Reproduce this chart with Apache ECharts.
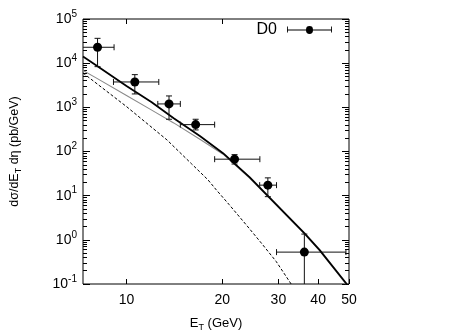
<!DOCTYPE html>
<html><head><meta charset="utf-8">
<script src="https://cdn.jsdelivr.net/npm/echarts@6/dist/echarts.min.js"></script>
<style>html,body{margin:0;padding:0;background:#fff}#c{width:474px;height:331px}</style>
</head><body><div id="c"></div>
<script>
// ---- data ----
const xTicks = [10, 20, 30, 40, 50];
const xTicksTop = [10, 20];          // the key box hides the upper ticks at 30 and 40
const yMajor = [0.1, 1, 10, 100, 1000, 10000, 100000];
const yMinorMult = [2, 3, 4, 5, 6, 7, 8, 9];

// D0 data points with error bars
const d0X  = [8.11, 10.62, 13.6, 16.49, 21.85, 27.8, 36.2];
const d0Y  = [22900, 3755, 1194, 406, 67, 17.3, 0.527];
const d0XLo = [7.08, 9.10, 12.54, 14.76, 18.92, 26.2, 29.6];
const d0XHi = [9.14, 12.63, 14.76, 18.92, 26.24, 29.6, 48.9];
const d0YLo = [8340, 2010, 537, 308, 52, 9.5, 0.05];
const d0YHi = [36500, 5500, 1811, 537, 85, 25.3, 1.35];

// theory curves
const blackX = [7.3, 8, 10, 12, 14.07, 17, 20.1, 24.35, 30, 36.2, 40.4, 48.9, 50];
const blackY = [14100, 9100, 3050, 1300, 566, 224, 91.6, 26.2, 5.66, 1.42, 0.594, 0.105, 0.082];
const grayX  = [7.3, 8, 10, 12, 14.07, 17, 20.1, 24.35, 30, 36.2, 40.4, 48.9, 50];
const grayY  = [6800, 4710, 1855, 865, 444, 190, 87, 25.1, 5.43, 1.36, 0.569, 0.1, 0.079];
const dashX  = [7.3, 10, 13.4, 16, 18.03, 19.15, 21, 23.78, 26.5, 29.53, 32.9, 34];
const dashY  = [6000, 1040, 183, 52.8, 22.8, 13.5, 6.3, 2.18, 0.851, 0.323, 0.1, 0.07];

// ---- build ----
const yMinor = [];
for (let i = 0; i < yMajor.length - 1; i++) for (const m of yMinorMult) yMinor.push(+(yMajor[i] * m).toPrecision(3));

const zip = (a, b) => a.map((v, i) => [v, b[i]]);
const d0Data = d0X.map((x, i) => [x, d0Y[i], d0XLo[i], d0XHi[i], d0YLo[i], d0YHi[i]]);

const FONT = '"Liberation Sans", Arial, Helvetica, sans-serif';
const XMIN = 7.3, XMAX = 50, YMIN = 0.1, YMAX = 1e5;

const supLabel = v => {
  const e = Math.round(Math.log10(v));
  return '{b|10}{s|' + e + '}';
};

const chart = echarts.init(document.getElementById('c'), null, {renderer: 'canvas'});
chart.setOption({
  animation: false,
  backgroundColor: '#fff',
  textStyle: {fontFamily: FONT, color: '#000'},
  grid: {left: 83, top: 19, width: 266, height: 265, outerBoundsMode: 'none', containLabel: false,
         show: true, borderColor: '#000', borderWidth: 1, backgroundColor: 'transparent'},
  legend: {
    data: [{name: 'D0', icon: 'path://M0,2L1,2L1,5.5L22,5.5A4,4 0 1 1 30,5.5L51,5.5L51,2L52,2L52,9L51,9L51,6.5L30,6.5A4,4 0 1 1 22,6.5L1,6.5L1,9L0,9Z'}],
    right: 474 - 332, top: 22, padding: 0, align: 'right',
    itemWidth: 45, itemHeight: 9,
    textStyle: {fontFamily: FONT, fontSize: 16, color: '#000', padding: [0, 5, 0, 0]},
    selectedMode: false
  },
  xAxis: [
    {type: 'log', min: XMIN, max: XMAX, position: 'bottom',
     name: '{n|E}{sub|T}{n| (GeV)}', nameLocation: 'middle', nameGap: 31,
     nameTextStyle: {rich: {n: {fontSize: 13, fontFamily: FONT, color: '#000'}, sub: {fontSize: 9, fontFamily: FONT, color: '#000', padding: [8, 0, 0, 0]}}},
     axisLine: {show: false}, splitLine: {show: false}, minorTick: {show: false},
     axisTick: {show: true, inside: true, length: 5, customValues: xTicks, lineStyle: {color: '#000'}},
     axisLabel: {show: true, customValues: xTicks, margin: 9, fontSize: 14, fontFamily: FONT, color: '#000', formatter: v => String(Math.round(v))}},
    {type: 'log', min: XMIN, max: XMAX, position: 'top',
     axisLine: {show: false}, splitLine: {show: false},
     axisTick: {show: true, inside: true, length: 5, customValues: xTicksTop, lineStyle: {color: '#000'}},
     axisLabel: {show: false}}
  ],
  yAxis: [
    {type: 'log', min: YMIN, max: YMAX, position: 'left',
     name: '{n|dσ/dE}{sub|T}{n| dη (pb/GeV)}', nameLocation: 'middle', nameGap: 60, nameRotate: 90,
     nameTextStyle: {rich: {n: {fontSize: 12.5, fontFamily: FONT, color: '#000'}, sub: {fontSize: 9, fontFamily: FONT, color: '#000', padding: [8, 0, 0, 0]}}},
     axisLine: {show: false}, splitLine: {show: false},
     axisTick: {show: true, inside: true, length: 7, customValues: yMajor, lineStyle: {color: '#000'}},
     axisLabel: {show: true, customValues: yMajor, margin: 6, formatter: supLabel,
       rich: {b: {fontSize: 14, fontFamily: FONT, color: '#000', lineHeight: 16},
              s: {fontSize: 10, fontFamily: FONT, color: '#000', lineHeight: 12, padding: [0, 0, 10, 0]}}}},
    {type: 'log', min: YMIN, max: YMAX, position: 'left',
     axisLine: {show: false}, splitLine: {show: false}, axisLabel: {show: false},
     axisTick: {show: true, inside: true, length: 4, customValues: yMinor, lineStyle: {color: '#000'}}},
    {type: 'log', min: YMIN, max: YMAX, position: 'right',
     axisLine: {show: false}, splitLine: {show: false}, axisLabel: {show: false},
     axisTick: {show: true, inside: true, length: 7, customValues: yMajor, lineStyle: {color: '#000'}}},
    {type: 'log', min: YMIN, max: YMAX, position: 'right',
     axisLine: {show: false}, splitLine: {show: false}, axisLabel: {show: false},
     axisTick: {show: true, inside: true, length: 4, customValues: yMinor, lineStyle: {color: '#000'}}}
  ],
  series: [
    {type: 'line', name: 'gray', data: zip(grayX, grayY), showSymbol: false, smooth: false, clip: true,
     lineStyle: {color: '#8a8a8a', width: 1.1}, z: 2},
    {type: 'line', name: 'dash', data: zip(dashX, dashY), showSymbol: false, smooth: false, clip: true,
     lineStyle: {color: '#000', width: 1, type: [3, 2]}, z: 2},
    {type: 'line', name: 'black', data: zip(blackX, blackY), showSymbol: false, smooth: false, clip: true,
     lineStyle: {color: '#000', width: 1.8}, z: 3},
    {type: 'custom', name: 'D0', data: d0Data, clip: true, z: 5,
     itemStyle: {color: '#000'},
     encode: {x: [0, 2, 3], y: [1, 4, 5]},
     renderItem: function (params, api) {
       const x = api.value(0), y = api.value(1);
       const c = api.coord([x, y]);
       const l = api.coord([api.value(2), y]), r = api.coord([api.value(3), y]);
       const t = api.coord([x, api.value(5)]), b = api.coord([x, api.value(4)]);
       const cap = 3;
       const st = {stroke: '#111', lineWidth: 1, fill: null};
       const ln = (x1, y1, x2, y2) => ({type: 'line', shape: {x1, y1, x2, y2}, style: st});
       return {type: 'group', children: [
         ln(l[0], c[1], r[0], c[1]),
         ln(l[0], c[1] - cap, l[0], c[1] + cap),
         ln(r[0], c[1] - cap, r[0], c[1] + cap),
         ln(c[0], t[1], c[0], b[1]),
         ln(c[0] - cap, t[1], c[0] + cap, t[1]),
         ln(c[0] - cap, b[1], c[0] + cap, b[1]),
         {type: 'circle', shape: {cx: c[0], cy: c[1], r: 4.5}, style: {fill: '#000'}}
       ]};
     }}
  ]
});
</script></body></html>
